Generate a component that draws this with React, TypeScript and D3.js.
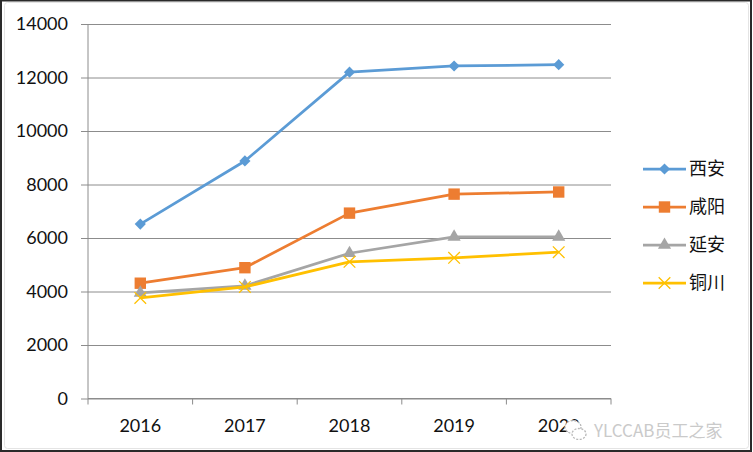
import React, { useEffect, useRef } from 'react';
import * as d3 from 'd3';

const years = ['2016', '2017', '2018', '2019', '2020'];
const yTicks = [0, 2000, 4000, 6000, 8000, 10000, 12000, 14000];

const xianValues = [6520, 8880, 12200, 12430, 12480];
const xianyangValues = [4310, 4890, 6930, 7640, 7720];
const yananValues = [3950, 4210, 5430, 6040, 6040];
const tongchuanValues = [3760, 4170, 5110, 5260, 5470];

const seriesNames = ['西安', '咸阳', '延安', '铜川'];
const seriesColors = ['#5b9bd5', '#ed7d31', '#a5a5a5', '#ffc000'];
const seriesMarkers = ['diamond', 'square', 'triangle', 'cross'];

const App: React.FC = () => {
  const svgRef = useRef<SVGSVGElement>(null);

  useEffect(() => {
    const svg = d3.select(svgRef.current);
    svg.selectAll('*').remove();

    const width = 753;
    const height = 452;
    const margin = { top: 24, right: 142, bottom: 53.5, left: 88 };
    const innerWidth = width - margin.left - margin.right;
    const innerHeight = height - margin.top - margin.bottom;
    const numFont = 'Lato, "Liberation Sans", sans-serif';

    svg.attr('width', width).attr('height', height);

    // background and frames
    svg.append('rect').attr('width', width).attr('height', height).attr('fill', '#ffffff');
    svg.append('rect')
      .attr('x', 4.5).attr('y', 2.5)
      .attr('width', width - 9).attr('height', height - 6)
      .attr('rx', 3)
      .attr('fill', 'none')
      .attr('stroke', '#e4e4e4');
    svg.append('rect')
      .attr('x', 1).attr('y', 0.5)
      .attr('width', width - 3).attr('height', height - 1.5)
      .attr('fill', 'none')
      .attr('stroke', '#2a2a2a')
      .attr('stroke-width', 2);

    const xScale = d3.scaleBand().domain(years).range([0, innerWidth]).padding(0);
    const yScale = d3.scaleLinear().domain([0, 14000]).range([innerHeight, 0]);

    const g = svg.append('g').attr('transform', `translate(${margin.left},${margin.top})`);

    // horizontal grid lines with outward ticks
    g.append('g')
      .call(d3.axisLeft(yScale).tickValues(yTicks).tickSize(-innerWidth).tickFormat(() => ''))
      .call(s => s.select('.domain').remove())
      .call(s => s.selectAll('.tick line').attr('stroke', '#8c8c8c').attr('x1', -7));

    // y axis line and labels
    g.append('line')
      .attr('x1', 0).attr('x2', 0).attr('y1', 0).attr('y2', innerHeight)
      .attr('stroke', '#8c8c8c');

    g.selectAll('.ylabel')
      .data(yTicks)
      .enter().append('text')
      .attr('x', -20)
      .attr('y', d => yScale(d))
      .attr('dy', '0.36em')
      .attr('text-anchor', 'end')
      .style('font-family', numFont)
      .style('font-size', '18px')
      .style('fill', '#111')
      .text(d => String(d));

    // x axis
    const xAxis = g.append('g').attr('transform', `translate(0,${innerHeight})`);
    xAxis.append('line')
      .attr('x1', 0).attr('x2', innerWidth)
      .attr('stroke', '#8c8c8c');
    const boundaries = years.map(y => xScale(y)!).concat([innerWidth]);
    xAxis.selectAll('.xtick')
      .data(boundaries)
      .enter().append('line')
      .attr('x1', d => d).attr('x2', d => d)
      .attr('y1', 0).attr('y2', 6)
      .attr('stroke', '#8c8c8c');
    xAxis.selectAll('.xlabel')
      .data(years)
      .enter().append('text')
      .attr('x', d => xScale(d)! + xScale.bandwidth() / 2)
      .attr('y', 33)
      .attr('text-anchor', 'middle')
      .style('font-family', numFont)
      .style('font-size', '18px')
      .style('fill', '#111')
      .text(d => d);

    const allValues = [xianValues, xianyangValues, yananValues, tongchuanValues];

    const line = d3.line<number>()
      .x((d, i) => xScale(years[i])! + xScale.bandwidth() / 2)
      .y(d => yScale(d));

    const symbolFor = (m: string) => {
      if (m === 'diamond') return d3.symbol().type(d3.symbolDiamond2).size(80);
      if (m === 'square') return d3.symbol().type(d3.symbolSquare).size(130);
      if (m === 'triangle') return d3.symbol().type(d3.symbolTriangle).size(75);
      return d3.symbol().type(d3.symbolX).size(90);
    };

    const drawMarker = (sel: d3.Selection<SVGGElement, unknown, null, undefined>, idx: number) => {
      const m = seriesMarkers[idx];
      const p = sel.append('path')
        .attr('d', symbolFor(m)());
      if (m === 'cross') {
        p.attr('fill', 'none').attr('stroke', seriesColors[idx]).attr('stroke-width', 1.3);
      } else {
        p.attr('fill', seriesColors[idx]);
      }
    };

    allValues.forEach((vals, idx) => {
      g.append('path')
        .datum(vals)
        .attr('d', line)
        .attr('fill', 'none')
        .attr('stroke', seriesColors[idx])
        .attr('stroke-width', 2.75)
        .attr('stroke-linejoin', 'round');

      vals.forEach((v, i) => {
        const mg = g.append('g')
          .attr('transform', `translate(${xScale(years[i])! + xScale.bandwidth() / 2},${yScale(v)})`);
        drawMarker(mg, idx);
      });
    });

    // legend
    const legend = svg.append('g').attr('transform', 'translate(643,169)');
    seriesNames.forEach((name, idx) => {
      const item = legend.append('g').attr('transform', `translate(0,${idx * 38})`);
      item.append('line')
        .attr('x1', 0).attr('x2', 43)
        .attr('stroke', seriesColors[idx])
        .attr('stroke-width', 2.75);
      const mg = item.append('g').attr('transform', 'translate(21.5,0)');
      drawMarker(mg, idx);
      item.append('text')
        .attr('x', 46)
        .attr('dy', '0.36em')
        .style('font-family', '"Noto Sans CJK SC", sans-serif')
        .style('font-size', '18px')
        .style('fill', '#111')
        .text(name);
    });

    // watermark
    const wm = svg.append('g');
    const icon = wm.append('g').attr('transform', 'translate(575,430)');
    icon.append('ellipse')
      .attr('cx', -2).attr('cy', -3).attr('rx', 8).attr('ry', 6.5)
      .attr('fill', '#ffffff').attr('stroke', '#b8b8b8').attr('stroke-width', 1.3)
      .attr('stroke-dasharray', '2,1.5');
    icon.append('ellipse')
      .attr('cx', 4).attr('cy', 4).attr('rx', 7).attr('ry', 5.5)
      .attr('fill', '#ffffff').attr('stroke', '#b8b8b8').attr('stroke-width', 1.3)
      .attr('stroke-dasharray', '2,1.5');
    wm.append('text')
      .attr('x', 594)
      .attr('y', 437)
      .style('font-family', '"Noto Sans CJK SC", sans-serif')
      .style('font-size', '17px')
      .style('fill', '#cacaca')
      .style('stroke', '#ffffff')
      .style('stroke-width', 0.6)
      .style('paint-order', 'stroke')
      .text('YLCCAB员工之家');
  }, []);

  return (
    <div style={{ position: 'fixed', left: 0, top: 0, margin: 0 }}>
      <svg ref={svgRef} style={{ display: 'block' }}></svg>
    </div>
  );
};

export default App;
